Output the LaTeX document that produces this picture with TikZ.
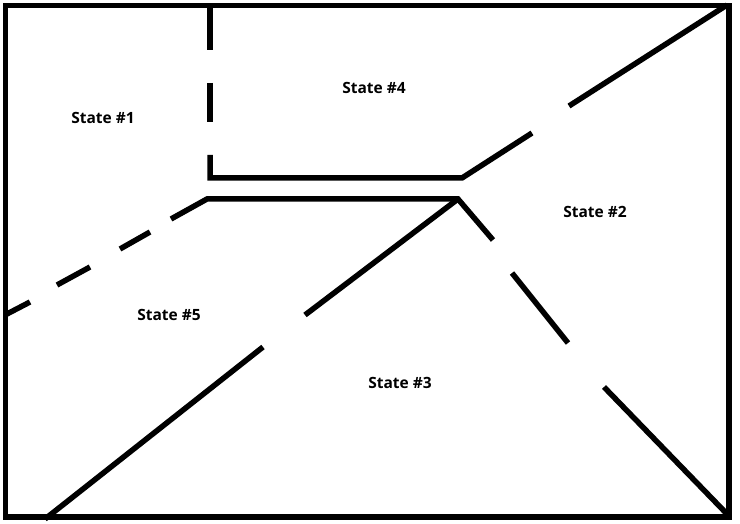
\documentclass[tikz,border=0pt]{standalone}
\usepackage{fontspec}
\setmainfont{Open Sans}
\begin{document}
\begin{tikzpicture}[x=1pt,y=-1pt,
  ln/.style={line width=5.5pt,black},
  lbl/.style={font=\bfseries\fontsize{15.5}{18}\selectfont,inner sep=0pt}]
\useasboundingbox (0,0) rectangle (740,524);
\draw[ln] (5.5,5.5) rectangle (729,517);
% vertical dashed
\draw[ln] (210,5) -- (210,50);
\draw[ln] (210,83) -- (210,122);
\draw[ln,line join=miter] (210,155) -- (210,178) -- (462,178) -- (532,133);
\draw[ln] (569,106) -- (727,5);
% lower
\draw[ln,line join=miter] (171,219) -- (207,199) -- (458,199) -- (493,240);
\draw[ln] (150,232) -- (120,249);
\draw[ln] (90,267) -- (57,285);
\draw[ln] (30,302) -- (5,315);
\draw[ln] (458,199) -- (305,315);
\draw[ln] (263,347) -- (45,519);
\draw[ln] (512,273) -- (568,343);
\draw[ln] (604,387) -- (727,514);
\node[lbl] (s1) at (103,118) {State \#1};
\node[lbl] (s4) at (374,88) {State \#4};
\node[lbl] (s2) at (595,212) {State \#2};
\node[lbl] (s5) at (169,315) {State \#5};
\node[lbl] (s3) at (400,383) {State \#3};
\end{tikzpicture}
\end{document}
